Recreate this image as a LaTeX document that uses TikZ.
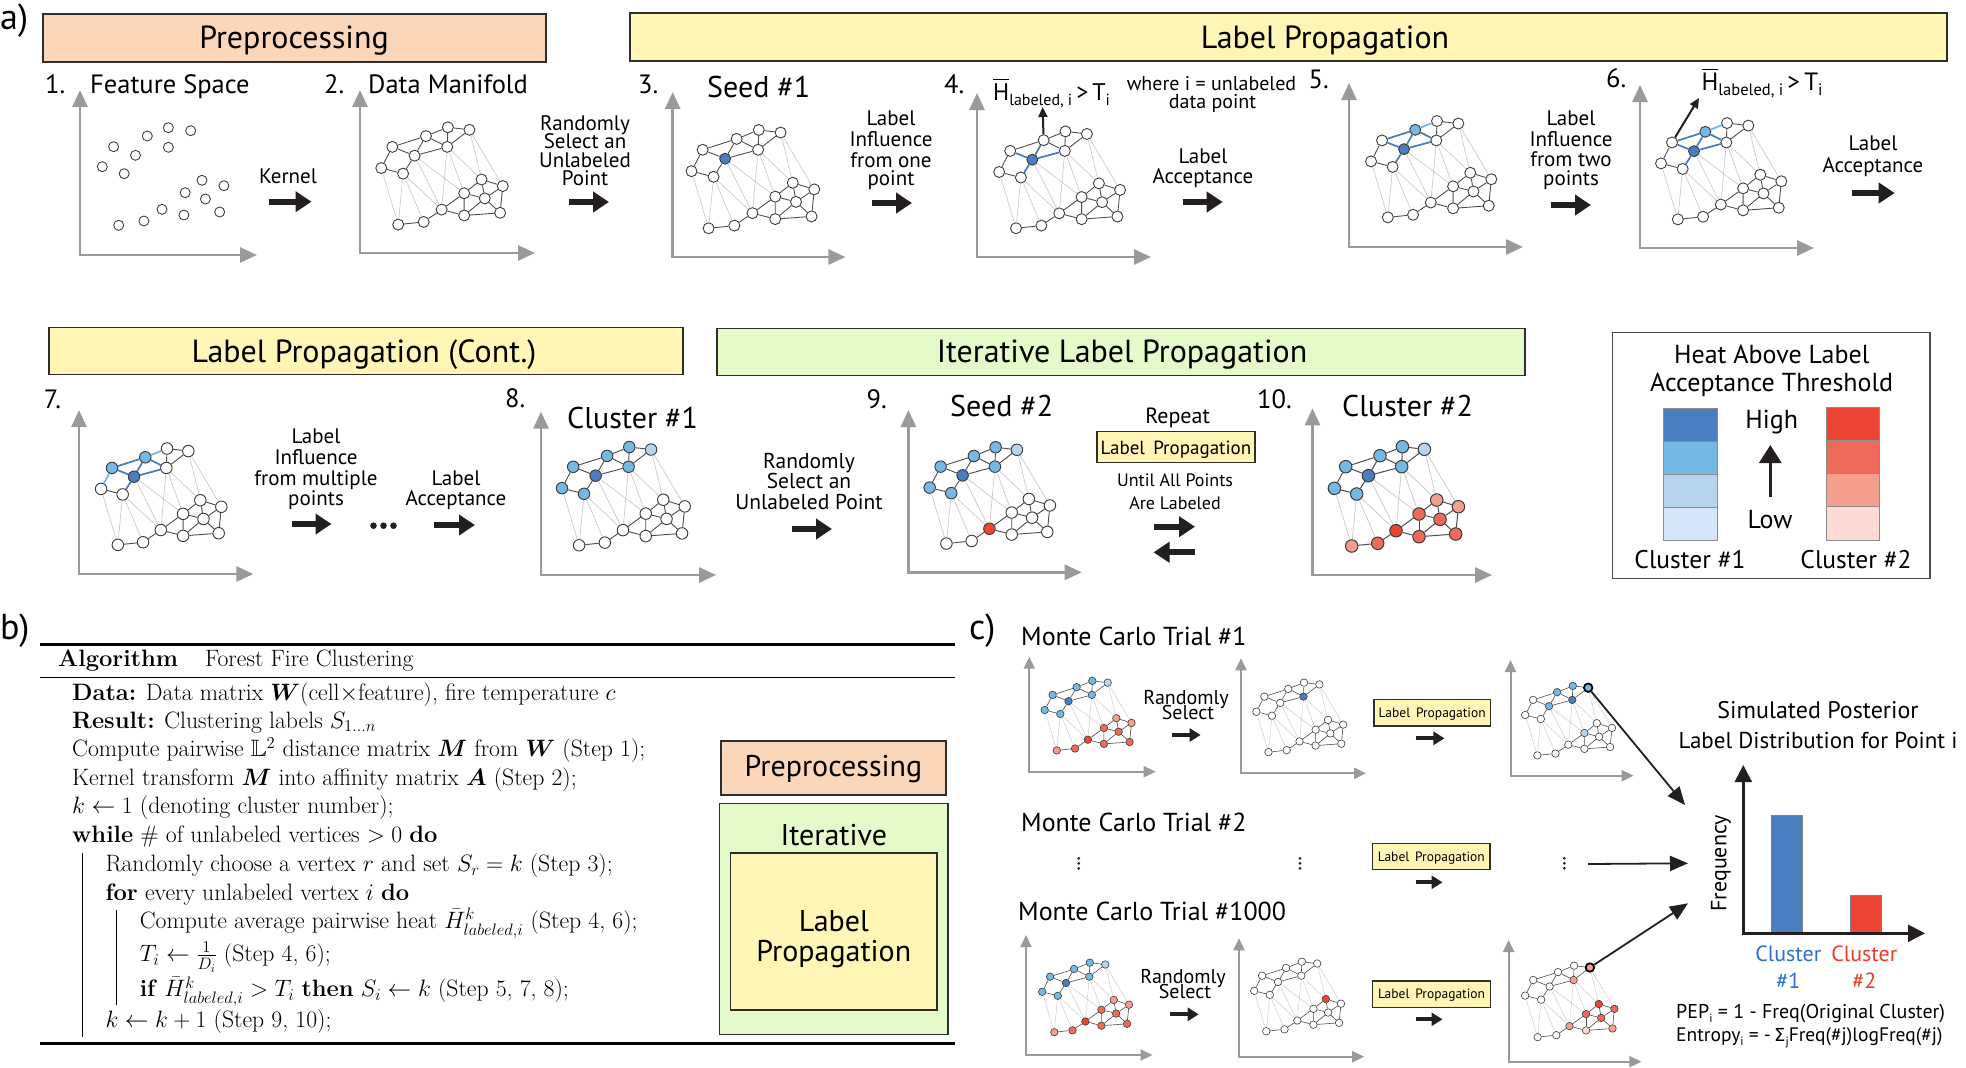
\documentclass[tikz,border=0pt]{standalone}
\usepackage{fix-cm}
\usepackage{amsmath,amssymb}
\usepackage{fontspec}
\newfontfamily\my{PT Sans}
\newfontfamily\dv{DejaVu Sans}
\usetikzlibrary{arrows.meta}
\definecolor{peach}{HTML}{FCD6B8}
\definecolor{lpy}{HTML}{FFF5B5}
\definecolor{lgreen}{HTML}{E4FAC8}
\definecolor{bord}{HTML}{2E2E2E}
\definecolor{axg}{HTML}{9A9A9A}
\definecolor{ablack}{HTML}{231F20}
\definecolor{gdark}{HTML}{4D4D4D}
\definecolor{ggray}{HTML}{CACACA}
\definecolor{gborder}{HTML}{3A3A3A}
\definecolor{cdark}{HTML}{4A7EC0}
\definecolor{cmid}{HTML}{74B8E4}
\definecolor{clight}{HTML}{B7D4EE}
\definecolor{cvlight}{HTML}{D5E6FA}
\definecolor{cred}{HTML}{EE4433}
\definecolor{rmid}{HTML}{F06A5B}
\definecolor{rsal}{HTML}{F49E8D}
\definecolor{rpale}{HTML}{FDDAD3}
\definecolor{tblue}{HTML}{2D6FD2}
\definecolor{tred}{HTML}{EE3B26}
\newcommand\fs[1]{\fontsize{#1}{#1}\selectfont}
\newcommand\al[1]{\raisebox{0pt}[15pt][4pt]{#1}}
\def\tmplnodes{1/33.0/-108.3, 2/21.7/-86.7, 3/44.0/-81.0, 4/55.7/-99.3, 5/67.3/-119.3, 6/89.7/-128.3, 7/111.7/-125.7, 8/89.0/-108.3, 9/124.0/-75.0, 10/145.7/-68.3, 11/106.3/-61.0, 12/127.3/-55.7, 13/83.3/-44.3, 14/106.3/-38.3, 15/143.0/-41.0, 16/39.0/-29.0, 17/65.0/-31.7}
\def\tmplblack{1/2,2/3,3/4,4/1,1/5,4/5,5/6,5/8,6/7,6/8,7/8,4/8,16/17,17/13,13/11,13/14,11/9,11/12,11/14,9/12,9/10,10/12,10/15,12/15,12/14,14/15}
\def\tmplgray{2/16,3/16,3/17,3/13,4/13,4/11,8/13,8/11,8/9,7/9,7/10}
\newcommand\ffg[7]{%
  \begin{scope}[shift={(#2,#3)},scale=#4]
    \pgfmathsetmacro\ew{#5*0.08}
    \edef\gclist{#6}
    \foreach \i in {1,...,17}{\xglobal\colorlet{gc\i}{white}}
    \foreach \i/\cc in \gclist{\xglobal\colorlet{gc\i}{\cc}}
    \foreach \i/\x/\y in \tmplnodes{\node[gnode,minimum size=#5pt,line width=\ew pt,fill=gc\i] (#1\i) at (\x,\y) {};}
    \foreach \ea/\eb in \tmplgray{\draw[draw=ggray,line width=0.75*\ew pt] (#1\ea) -- (#1\eb);}
    \foreach \ea/\eb in \tmplblack{\draw[draw=gdark,line width=\ew pt] (#1\ea) -- (#1\eb);}
    #7
  \end{scope}}
\newcommand\axes[6]{%
  \coordinate (#2-o) at (#3,#4); \coordinate (#2-y) at (#3,#5); \coordinate (#2-x) at (#6,#4);
  \draw[#1] (#2-y) -- (#2-o) -- (#2-x);}
\newcommand\barr[5]{%
  \coordinate (#2-s) at (#3,#5); \coordinate (#2-e) at (#4,#5); \draw[#1] (#2-s) -- (#2-e);}
\def\bluefull{4/cdark,1/cmid,2/cmid,3/cmid,5/cmid,6/cmid,8/cmid,7/clight}
\def\redfull{13/cred,11/rmid,12/rmid,14/rmid,15/rmid,17/rmid,9/rsal,10/rsal,16/rsal}
\begin{document}
\begin{tikzpicture}[x=1pt,y=-1pt,
  axis/.style={draw=axg,line width=2.8pt,{Triangle[length=17pt,width=15pt]}-{Triangle[length=17pt,width=15pt]}},
  axsm/.style={draw=axg,line width=2pt,{Triangle[length=12pt,width=11pt]}-{Triangle[length=12pt,width=11pt]}},
  barrow/.style={draw=ablack,line width=6pt,-{Triangle[length=16pt,width=20pt]}},
  sarrow/.style={draw=ablack,line width=4pt,-{Triangle[length=11pt,width=13pt]}},
  karrow/.style={draw=ablack,line width=2pt,-{Triangle[length=10pt,width=9pt]}},
  larrow/.style={draw=ablack,line width=1.8pt,-{Triangle[length=18pt,width=15pt]}},
  chax/.style={draw=ablack,line width=2.4pt,{Triangle[length=17pt,width=17pt]}-{Triangle[length=17pt,width=17pt]}},
  legarrow/.style={draw=ablack,line width=3.2pt,-{Triangle[length=18pt,width=22pt]}},
  gnode/.style={circle,draw=gborder,inner sep=0pt},
  hl/.style={draw=cdark,line width=1.7pt},
  hll/.style={draw=cmid,line width=1.7pt},
  txt/.style={inner sep=0pt,anchor=base},
  hbox/.style={draw=bord,line width=1.5pt,inner sep=0pt},
  cell/.style={draw=black!45,line width=0.6pt}]
\fill[white] (0,0) rectangle (1966,1068);
\useasboundingbox (0,0) rectangle (1966,1068);

% panel letters
\node[txt,anchor=base west,font=\my\fs{36}] (la) at (0,29) {a)};
\node[txt,anchor=base west,font=\my\fs{36}] (lb) at (0,639) {b)};
\node[txt,anchor=base west,font=\my\fs{36}] (lc) at (969,639) {c)};

% header boxes
\node[hbox,fill=peach,minimum width=503pt,minimum height=48pt] (hpre) at (294.5,38) {};
\node[txt,font=\my\fs{32}] (hpre-t) at (294,48) {Preprocessing};
\node[hbox,fill=lpy,minimum width=1317pt,minimum height=48pt] (hlp) at (1288.5,37) {};
\node[txt,font=\my\fs{32}] (hlp-t) at (1325,48) {Label Propagation};
\node[hbox,fill=lpy,minimum width=634pt,minimum height=47pt] (hlpc) at (366,350.8) {};
\node[txt,font=\my\fs{32}] (hlpc-t) at (364,362) {Label Propagation (Cont.)};
\node[hbox,fill=lgreen,minimum width=808pt,minimum height=47.4pt] (hilp) at (1121,352) {};
\node[txt,font=\my\fs{32}] (hilp-t) at (1122,362) {Iterative Label Propagation};

% step labels row 1
\node[txt,anchor=base west,font=\my\fs{26.5}] (s1) at (45,93) {1.};
\node[txt,anchor=base west,font=\my\fs{26.5}] (s1t) at (90,93) {Feature Space};
\node[txt,anchor=base west,font=\my\fs{26.5}] (s2) at (324,93) {2.};
\node[txt,anchor=base west,font=\my\fs{26.5}] (s2t) at (368,93) {Data Manifold};
\node[txt,anchor=base west,font=\my\fs{26.5}] (s3) at (638,93) {3.};
\node[txt,anchor=base west,font=\my\fs{30}] (s3t) at (707,97) {Seed \#1};
\node[txt,anchor=base west,font=\my\fs{26.5}] (s4) at (944,93) {4.};
\node[txt,anchor=base west,font=\my\fs{26.5}] (s5) at (1308.5,88) {5.};
\node[txt,anchor=base west,font=\my\fs{26.5}] (s6) at (1606,87) {6.};
% step labels row 2
\node[txt,anchor=base west,font=\my\fs{26.5}] (s7) at (43.6,408) {7.};
\node[txt,anchor=base west,font=\my\fs{26.5}] (s8) at (505,407) {8.};
\node[txt,anchor=base west,font=\my\fs{30}] (s8t) at (567,428) {Cluster \#1};
\node[txt,anchor=base west,font=\my\fs{26.5}] (s9) at (866.5,408) {9.};
\node[txt,anchor=base west,font=\my\fs{30}] (s9t) at (950,416) {Seed \#2};
\node[txt,anchor=base west,font=\my\fs{26.5}] (s10) at (1257,408) {10.};
\node[txt,anchor=base west,font=\my\fs{30}] (s10t) at (1342,416) {Cluster \#2};

% H-bar labels
\node[txt,anchor=base west,font=\my\fs{24}] (h4) at (993,100) {$\overline{\mbox{H}}$\raisebox{-5pt}{\fs{16}labeled, i}\,>\,T\raisebox{-5pt}{\fs{16}i}};
\node[txt,font=\my\fs{20}] (wh1) at (1211.5,90) {where i = unlabeled};
\node[txt,font=\my\fs{20}] (wh2) at (1212.5,108) {data point};
\node[txt,anchor=base west,font=\my\fs{25}] (h6) at (1701.4,90) {$\overline{\mbox{H}}$\raisebox{-5pt}{\fs{16.5}labeled, i}\,>\,T\raisebox{-5pt}{\fs{16.5}i}};

% arrow labels row 1
\node[txt,font=\my\fs{21}] (kern) at (288,183) {Kernel};
\node[txt,font=\my\fs{21}] (rs1) at (585,130) {Randomly};
\node[txt,font=\my\fs{21}] (rs2) at (585,148) {Select an};
\node[txt,font=\my\fs{21}] (rs3) at (585,167) {Unlabeled};
\node[txt,font=\my\fs{21}] (rs4) at (585,185) {Point};
\node[txt,font=\my\fs{21}] (op1) at (891,125) {Label};
\node[txt,font=\my\fs{21}] (op2) at (891,146) {Influence};
\node[txt,font=\my\fs{21}] (op3) at (891,167) {from one};
\node[txt,font=\my\fs{21}] (op4) at (891,185) {point};
\node[txt,font=\my\fs{21}] (la1) at (1203,163) {Label};
\node[txt,font=\my\fs{21}] (la2) at (1203,183) {Acceptance};
\node[txt,font=\my\fs{21}] (tp1) at (1571,125) {Label};
\node[txt,font=\my\fs{21}] (tp2) at (1571,146) {Influence};
\node[txt,font=\my\fs{21}] (tp3) at (1571,166) {from two};
\node[txt,font=\my\fs{21}] (tp4) at (1571,185) {points};
\node[txt,font=\my\fs{21}] (lb1) at (1873,150) {Label};
\node[txt,font=\my\fs{21}] (lb2) at (1873,172) {Acceptance};
% arrow labels row 2
\node[txt,font=\my\fs{21}] (mp1) at (316,443) {Label};
\node[txt,font=\my\fs{21}] (mp2) at (316,464) {Influence};
\node[txt,font=\my\fs{21}] (mp3) at (316,485) {from multiple};
\node[txt,font=\my\fs{21}] (mp4) at (316,505) {points};
\node[txt,font=\my\fs{21}] (lc1) at (456,485) {Label};
\node[txt,font=\my\fs{21}] (lc2) at (456,505) {Acceptance};
\node[txt,font=\my\fs{21.5}] (ru1) at (809,468) {Randomly};
\node[txt,font=\my\fs{21.5}] (ru2) at (809,488) {Select an};
\node[txt,font=\my\fs{21.5}] (ru3) at (809,509) {Unlabeled Point};
\node[txt,font=\my\fs{22}] (rep) at (1177.6,423) {Repeat};
\node[hbox,fill=lpy,minimum width=158pt,minimum height=31pt] (replp) at (1176,447.2) {};
\node[txt,font=\my\fs{19}] (replp-t) at (1176,454) {Label\, Propagation};
\node[txt,font=\my\fs{18}] (un1) at (1175,486) {Until All Points};
\node[txt,font=\my\fs{18}] (un2) at (1175,509.5) {Are Labeled};
\foreach \xx in {373.5,383.5,393.5}{\fill[ablack] (\xx,525.7) circle[radius=3.3];}

% black block arrows
\barr{barrow}{k1}{268.5}{311.5}{201.7}
\barr{barrow}{k2}{569}{609}{202}
\barr{barrow}{k3}{872}{912}{203}
\barr{barrow}{k4}{1182.5}{1222.7}{202}
\barr{barrow}{k5}{1550.6}{1591}{205}
\barr{barrow}{k6}{1852}{1894.7}{193}
\barr{barrow}{k7}{291.5}{331.5}{524}
\barr{barrow}{k8}{434}{475}{525}
\barr{barrow}{k9}{792}{832}{529}
\barr{barrow}{k10}{1153.5}{1195}{526.7}
\barr{barrow}{k11}{1195}{1153.5}{552.3}

% panel 1 feature space
\axes{axis}{ax1}{80}{255}{90}{257}
\foreach \i/\x/\y in {1/113.6/146.7,2/147.3/136,3/168.4/127.7,4/190.7/130.7,5/168.4/147.3,6/135.5/155.3,7/102.3/166.7,8/124.2/173.7,9/202/180.3,10/223.9/185.7,11/185.2/192.7,12/205.4/199,13/162/209.3,14/183.9/215,15/219.7/212,16/118.7/225.3,17/143.9/221}
  {\node[gnode,minimum size=10pt,line width=0.85pt,fill=white] (fs-\i) at (\x,\y) {};}

% panel 2
\axes{axis}{ax2}{360}{253}{90}{535}
\ffg{g2-}{360}{253}{0.98}{11}{1/white}{}
% panel 3
\axes{axis}{ax3}{672.7}{257}{92}{845.4}
\ffg{g3-}{670}{257}{0.99}{11}{4/cdark}{}
% panel 4
\axes{axis}{ax4}{977}{257}{93}{1151}
\ffg{g4-}{978}{256.5}{0.975}{11}{4/cdark}{%
  \draw[hl] (g4-4)--(g4-1); \draw[hl] (g4-4)--(g4-3); \draw[hl] (g4-4)--(g4-5); \draw[hl] (g4-4)--(g4-8);}
\coordinate (h4tip) at (1042.6,107);
\draw[karrow] (g4-5) -- (h4tip);
% panel 5
\axes{axis}{ax5}{1349}{247}{83}{1523}
\ffg{g5-}{1350}{245.5}{0.97}{11}{4/cdark,5/cmid}{%
  \draw[hl] (g5-1)--(g5-5); \draw[hl] (g5-1)--(g5-4); \draw[hl] (g5-4)--(g5-3); \draw[hl] (g5-4)--(g5-8);
  \draw[hl] (g5-5)--(g5-8); \draw[hl] (g5-4)--(g5-5); \draw[hll] (g5-5)--(g5-6);}
% panel 6
\axes{axis}{ax6}{1640}{248}{85}{1814}
\ffg{g6-}{1640}{247.5}{0.97}{11}{4/cdark,5/cmid}{%
  \draw[hl] (g6-1)--(g6-5); \draw[hl] (g6-1)--(g6-4); \draw[hl] (g6-4)--(g6-3); \draw[hl] (g6-4)--(g6-8);
  \draw[hl] (g6-5)--(g6-8); \draw[hl] (g6-4)--(g6-5); \draw[hll] (g6-5)--(g6-6);}
\coordinate (h6tip) at (1699,98);
\draw[karrow] (g6-1) -- (h6tip);
% panel 7
\axes{axis}{ax7}{79}{574}{410}{253.4}
\ffg{g7-}{80}{573}{0.97}{11.5}{4/cdark,5/cmid,1/cmid}{%
  \draw[hl] (g7-1)--(g7-5); \draw[hl] (g7-1)--(g7-4); \draw[hl] (g7-4)--(g7-3); \draw[hl] (g7-4)--(g7-8);
  \draw[hl] (g7-5)--(g7-8); \draw[hl] (g7-4)--(g7-5); \draw[hll] (g7-5)--(g7-6); \draw[hll] (g7-1)--(g7-2);}
% panel 8
\axes{axis}{ax8}{541}{575}{411.7}{716}
\ffg{g8-}{540.5}{574}{0.99}{11.5}{\bluefull}{}
% panel 9
\axes{axis}{ax9}{908.4}{572.3}{410}{1081.7}
\ffg{g9-}{908.6}{571.7}{0.97}{11.5}{\bluefull,13/cred}{}
% panel 10
\axes{axis}{ax10}{1312.5}{575}{408.3}{1492}
\ffg{g10-}{1312.7}{575}{1.0}{12.5}{\bluefull,\redfull}{}

% legend
\node[draw=black!70,line width=1.3pt,minimum width=317.3pt,minimum height=246pt,inner sep=0pt] (leg) at (1771.4,455.3) {};
\node[txt,font=\my\fs{26}] (leg1) at (1771.7,363.3) {Heat Above Label};
\node[txt,font=\my\fs{26}] (leg2) at (1771.7,391.7) {Acceptance Threshold};
\fill[cdark] (1663.3,408.3) rectangle (1717.3,441.7);
\fill[cmid] (1663.3,441.7) rectangle (1717.3,474.3);
\fill[clight] (1663.3,474.3) rectangle (1717.3,507.3);
\fill[cvlight] (1663.3,507.3) rectangle (1717.3,540.7);
\draw[cell] (1663.3,408.3) rectangle (1717.3,540.7) (1663.3,441.7)--(1717.3,441.7) (1663.3,474.3)--(1717.3,474.3) (1663.3,507.3)--(1717.3,507.3);
\fill[cred] (1826,407.3) rectangle (1879.3,440.3);
\fill[rmid] (1826,440.3) rectangle (1879.3,473.3);
\fill[rsal] (1826,473.3) rectangle (1879.3,506.3);
\fill[rpale] (1826,506.3) rectangle (1879.3,540);
\draw[cell] (1826,407.3) rectangle (1879.3,540) (1826,440.3)--(1879.3,440.3) (1826,473.3)--(1879.3,473.3) (1826,506.3)--(1879.3,506.3);
\node[txt,font=\my\fs{26}] (legh) at (1771.7,428.3) {High};
\node[txt,font=\my\fs{26}] (legl) at (1770,528.3) {Low};
\coordinate (legas) at (1770.3,496.7); \coordinate (legae) at (1770.3,445);
\draw[legarrow] (legas) -- (legae);
\node[txt,font=\my\fs{25.5}] (legc1) at (1690,568.3) {Cluster \#1};
\node[txt,font=\my\fs{25.5}] (legc2) at (1856,568.3) {Cluster \#2};

% part b algorithm
\draw[line width=2.4pt] (40,644.3) -- (955,644.3);
\draw[line width=1.3pt] (40,677.7) -- (955,677.7);
\draw[line width=2.4pt] (40,1043.3) -- (955,1043.3);
\draw[line width=0.8pt] (82.7,853) -- (82.7,1036.7);
\draw[line width=1.2pt] (116.3,910) -- (116.3,1005);
\begin{scope}[every node/.style={txt,anchor=base west,font=\fontsize{23.7}{28.5}\selectfont}]
\node (alg1) at (58,666.7) {\al{\textbf{Algorithm}}};
\node (alg2) at (205,666.7) {\al{Forest Fire Clustering}};
\node (l1) at (72,700) {\al{\textbf{Data:} Data matrix $\boldsymbol{W}$(cell$\times$feature), fire temperature $c$}};
\node (l2) at (72,728.3) {\al{\textbf{Result:} Clustering labels $S_{1\ldots n}$}};
\node (l3) at (72,756.7) {\al{Compute pairwise $\mathbb{L}^2$ distance matrix $\boldsymbol{M}$ from $\boldsymbol{W}$ (Step 1);}};
\node (l4) at (72,785) {\al{Kernel transform $\boldsymbol{M}$ into affinity matrix $\boldsymbol{A}$ (Step 2);}};
\node (l5) at (72,813.3) {\al{$k\leftarrow 1$ (denoting cluster number);}};
\node (l6) at (72,842.3) {\al{\textbf{while} \# of unlabeled vertices $>0$ \textbf{do}}};
\node (l7) at (105.3,871.7) {\al{Randomly choose a vertex $r$ and set $S_r=k$ (Step 3);}};
\node (l8) at (105.3,900) {\al{\textbf{for} every unlabeled vertex $i$ \textbf{do}}};
\node (l9) at (139.6,928.3) {\al{Compute average pairwise heat $\bar{H}^k_{labeled,i}$ (Step 4, 6);}};
\node (l10) at (139.6,961.7) {\al{$T_i\leftarrow\frac{1}{D_i}$ (Step 4, 6);}};
\node (l11) at (139.6,996.7) {\al{\textbf{if} $\bar{H}^k_{labeled,i}>T_i$ \textbf{then} $S_i\leftarrow k$ (Step 5, 7, 8);}};
\node (l12) at (105.3,1027.3) {\al{$k\leftarrow k+1$ (Step 9, 10);}};
\end{scope}
% part b boxes
\node[hbox,fill=peach,minimum width=225pt,minimum height=54pt] (bpre) at (833.4,767.9) {};
\node[txt,font=\my\fs{30}] (bpre-t) at (833.4,776) {Preprocessing};
\node[hbox,fill=lgreen,minimum width=228.5pt,minimum height=231pt] (bit) at (833.8,918.8) {};
\node[txt,font=\my\fs{30}] (bit-t) at (833.8,845) {Iterative};
\node[hbox,fill=lpy,minimum width=206.4pt,minimum height=157.3pt] (bin) at (833.8,931.4) {};
\node[txt,font=\my\fs{30}] (bin-t1) at (833.8,931.7) {Label};
\node[txt,font=\my\fs{30}] (bin-t2) at (833.8,961.7) {Propagation};

% part c
\node[txt,anchor=base west,font=\my\fs{26}] (mc1) at (1021,645) {Monte Carlo Trial \#1};
\node[txt,anchor=base west,font=\my\fs{26}] (mc2) at (1021,831.7) {Monte Carlo Trial \#2};
\node[txt,anchor=base west,font=\my\fs{26}] (mc3) at (1018,920) {Monte Carlo Trial \#1000};
\node[txt,font=\my\fs{20}] (cr1) at (1186,704) {Randomly};
\node[txt,font=\my\fs{20}] (cr2) at (1188,719) {Select};
\node[txt,font=\my\fs{20}] (cr3) at (1183,983) {Randomly};
\node[txt,font=\my\fs{20}] (cr4) at (1185,998) {Select};
\node[hbox,fill=lpy,minimum width=116.8pt,minimum height=26.7pt] (clp1) at (1432.2,712.7) {};
\node[txt,font=\my\fs{13.5}] (clp1-t) at (1432.2,717.4) {Label\, Propagation};
\node[hbox,fill=lpy,minimum width=117.5pt,minimum height=26pt] (clp2) at (1431.3,856.3) {};
\node[txt,font=\my\fs{13.5}] (clp2-t) at (1431.3,861) {Label\, Propagation};
\node[hbox,fill=lpy,minimum width=118pt,minimum height=26.3pt] (clp3) at (1431.5,994.2) {};
\node[txt,font=\my\fs{13.5}] (clp3-t) at (1431.5,998.9) {Label\, Propagation};
\barr{sarrow}{c1}{1171.7}{1200.6}{735}
\barr{sarrow}{c2}{1415.5}{1444.4}{738.3}
\barr{sarrow}{c3}{1415.5}{1442.5}{882.3}
\barr{sarrow}{c4}{1170.4}{1198.7}{1014.3}
\barr{sarrow}{c5}{1415.5}{1442.5}{1019.3}
\foreach \xx in {1078.7,1300,1564.4}{\fill[ablack] (\xx,858.3) circle[radius=1.5] (\xx,863.3) circle[radius=1.5] (\xx,868.3) circle[radius=1.5];}

% trial graphs
\axes{axsm}{axa}{1029.3}{771.7}{656.7}{1155.7}
\ffg{ga-}{1029.5}{770.7}{0.7}{7.5}{\bluefull,\redfull}{}
\axes{axsm}{axb}{1241}{773.3}{658.3}{1366}
\ffg{gb-}{1241.2}{772.4}{0.7}{7.5}{8/cdark}{}
\axes{axsm}{axc}{1510.5}{775.7}{660}{1633.7}
\ffg{gc-}{1510}{775.7}{0.7}{7.5}{8/cdark,4/cmid,5/cmid,6/cmid,11/clight,7/cmid}{%
  \node[gnode,minimum size=8.5pt,line width=1.8pt,draw=black,fill=cmid] (gc-7h) at (gc-7) {};}
\axes{axsm}{axd}{1026}{1055}{935}{1152.5}
\ffg{gd-}{1027}{1052.5}{0.7}{7.5}{\bluefull,\redfull}{}
\axes{axsm}{axe}{1239}{1056.7}{938.3}{1364.2}
\ffg{ge-}{1239}{1051.5}{0.7}{7.5}{9/cred}{}
\axes{axsm}{axf}{1508.6}{1061.7}{940}{1641.4}
\ffg{gf-}{1509.5}{1058}{0.72}{7.5}{9/cred,10/rmid,11/rmid,12/rmid,8/rsal,13/rsal,15/rsal,14/rpale,7/rsal}{%
  \node[gnode,minimum size=8.5pt,line width=1.8pt,draw=black,fill=rsal] (gf-7h) at (gf-7) {};}

% arrows to chart
\coordinate (ar1e) at (1685,805);
\draw[larrow] (gc-7h) -- (ar1e);
\coordinate (ar2s) at (1588,864); \coordinate (ar2e) at (1688,863.3);
\draw[larrow] (ar2s) -- (ar2e);
\coordinate (ar3e) at (1688,903.3);
\draw[larrow] (gf-7h) -- (ar3e);

% chart
\node[txt,font=\my\fs{24}] (sp1) at (1818,718.3) {Simulated Posterior};
\node[txt,font=\my\fs{23}] (sp2) at (1818,748.3) {Label Distribution for Point i};
\fill[cdark] (1771.7,815.7) rectangle (1802.7,933.3);
\draw[black!50,line width=0.5pt] (1771.7,933.3) -- (1771.7,815.7) -- (1802.7,815.7) -- (1802.7,933.3);
\fill[cred] (1850,895) rectangle (1881.7,933.3);
\draw[black!50,line width=0.5pt] (1850,933.3) -- (1850,895) -- (1881.7,895) -- (1881.7,933.3);
\axes{chax}{axch}{1743.3}{933.3}{765}{1925}
\node[font=\my\fs{22},rotate=90,inner sep=0pt] (freq) at (1721,863.3) {Frequency};
\node[txt,font=\my\fs{22},text=tblue] (cc1) at (1788.3,961.7) {Cluster};
\node[txt,font=\my\fs{22},text=tblue] (cc1n) at (1788.3,988.3) {\#1};
\node[txt,font=\my\fs{22},text=tred] (cc2) at (1864.3,961.7) {Cluster};
\node[txt,font=\my\fs{22},text=tred] (cc2n) at (1864.3,988.3) {\#2};
\node[txt,anchor=base west,font=\my\fs{20}] (pep) at (1676,1018.3) {PEP\raisebox{-4pt}{\fs{12}i} = 1 - Freq(Original Cluster)};
\node[txt,anchor=base west,font=\my\fs{19.5}] (ent) at (1676,1041.7) {Entropy\raisebox{-4pt}{\fs{12}i} = -\,{\dv\fs{18}Σ}\raisebox{-4pt}{\fs{12}j}Freq(\#j)logFreq(\#j)};
\end{tikzpicture}
\end{document}
